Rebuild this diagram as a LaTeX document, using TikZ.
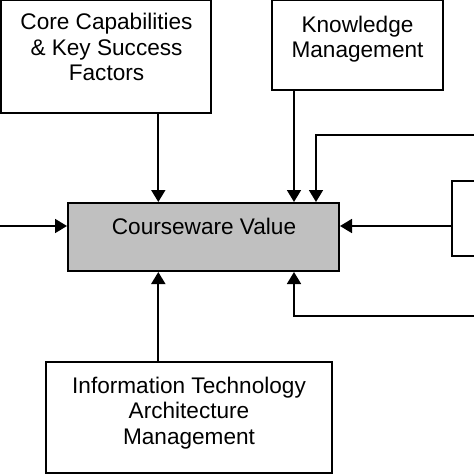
\documentclass[tikz,border=0pt]{standalone}
\usepackage{fontspec}
\setmainfont{Liberation Sans}
\usetikzlibrary{arrows.meta}
\definecolor{valuegray}{RGB}{192,192,192}

\begin{document}
\begin{tikzpicture}[x=1pt, y=-1pt, >={Triangle[width=14pt,length=12pt]},
  box/.style={draw, line width=2pt, inner sep=0pt},
  lbl/.style={align=center, inner sep=0pt, font=\fontsize{22.6}{25.5}\selectfont},
  link/.style={->, line width=1.7pt}]
\useasboundingbox (0,0) rectangle (474,474);
% boxes
\node[box, minimum width=210pt, minimum height=113pt] (ccf) at (106,56.5) {};
\node[box, minimum width=171pt, minimum height=90pt] (km) at (357.5,45) {};
\node[box, fill=valuegray, minimum width=271pt, minimum height=68pt] (cv) at (203.5,237) {};
\node[box, minimum width=100pt, minimum height=75pt] (rb) at (502,218.5) {};
\node[box, minimum width=286pt, minimum height=111pt] (itam) at (189,417.5) {};
% texts
\node[lbl] (ccft) at (106.5,47) {Core Capabilities\\\& Key Success\\Factors};
\node[lbl] (kmt) at (357.5,39) {Knowledge\\Management};
\node[lbl] (cvt) at (204,226) {Courseware Value};
\node[lbl] (itamt) at (189,413) {Information Technology\\Architecture\\Management};
% connector positions
\coordinate (xa) at (158.3,0);
\coordinate (xb) at (294,0);
\coordinate (xc) at (316,0);
\coordinate (ya) at (0,226);
\coordinate (topin) at (474,135);
\coordinate (botin) at (474,316.3);
% arrows
\draw[link] (ccf.south -| xa) -- (cv.north -| xa);
\draw[link] (km.south -| xb) -- (cv.north -| xb);
\draw[link] (topin) -| (cv.north -| xc);
\draw[link] (rb.west |- ya) -- (cv.east |- ya);
\draw[link] (ya) -- (cv.west |- ya);
\draw[link] (botin) -| (cv.south -| xb);
\draw[link] (itam.north -| xa) -- (cv.south -| xa);
\end{tikzpicture}
\end{document}
